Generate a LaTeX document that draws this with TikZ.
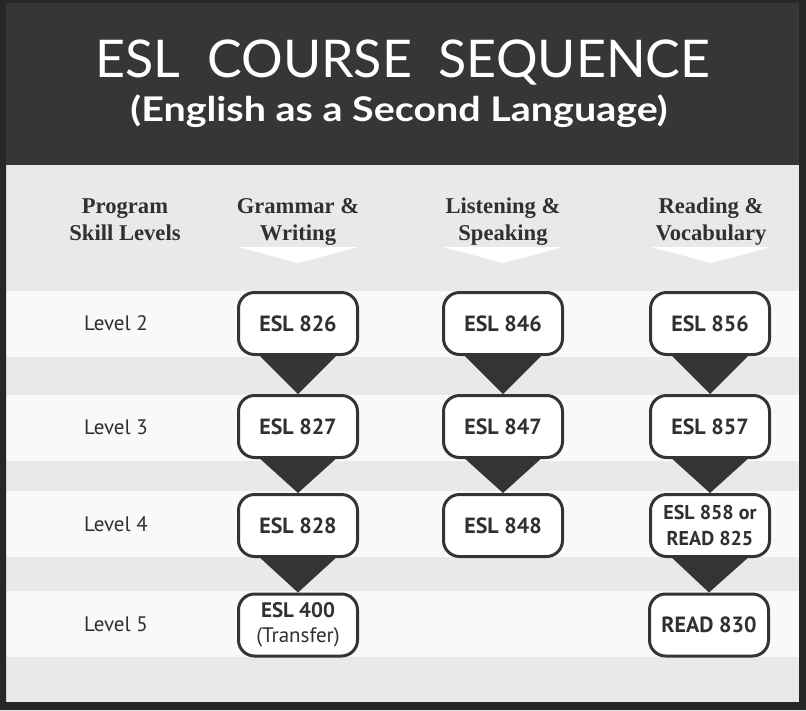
\documentclass[tikz,border=0pt]{standalone}
\usepackage{fontspec}
\setmainfont{PT Sans}
\newfontfamily\titlefont{Lato}
\newfontfamily\subtitlefont[FakeStretch=1.16]{Lato}
\newfontfamily\headfont{Liberation Serif}
\definecolor{darkbg}{RGB}{56,53,54}
\definecolor{framec}{RGB}{40,38,39}
\definecolor{greybg}{RGB}{233,233,233}
\definecolor{band}{RGB}{249,249,249}
\definecolor{ink}{RGB}{50,47,48}
\definecolor{boxline}{RGB}{54,51,52}
\pgfdeclarelayer{back}
\pgfdeclarelayer{drops}
\pgfsetlayers{back,drops,main}
\tikzset{
    course/.style={draw=boxline,line width=3pt,fill=white,rounded corners=16pt,
        minimum width=119pt,minimum height=62pt,inner sep=2pt,align=center,
        text=ink,font=\fontsize{22}{26}\selectfont\bfseries},
    level/.style={text=ink,font=\fontsize{21}{24}\selectfont},
    colhead/.style={text=ink,align=center,font=\fontsize{22.6}{27}\headfont\bfseries},
    drop/.style={fill=boxline}
}
\begin{document}
\begin{tikzpicture}[x=1pt,y=-1pt]
    \useasboundingbox (0,0) rectangle (806,710);
    % background, header and level bands
    \begin{pgfonlayer}{back}
        \fill[greybg] (0,0) rectangle (806,710);
        \fill[darkbg] (0,0) rectangle (806,165);
        \foreach \y in {291,395,491,591} {
            \fill[band] (6,\y) rectangle (799,\y+66);
        }
        \fill[framec,even odd rule] (0,0) rectangle (806,710) (6,3) rectangle (799,702);
    \end{pgfonlayer}
    % title
    \node[text=white,anchor=base,font=\fontsize{52}{56}\titlefont] (title) at (403,77)
        {ESL\ \ COURSE\ \ SEQUENCE};
    \node[text=white,anchor=base,font=\fontsize{34}{38}\subtitlefont\bfseries] (subtitle) at (399,121)
        {(English as a Second Language)};
    % column heads
    \node[colhead] (hskill) at (125,220) {Program\\Skill Levels};
    \node[colhead] (hgram) at (298,222) {Grammar \&\\Writing};
    \node[colhead] (hlist) at (503,222) {Listening \&\\Speaking};
    \node[colhead] (hread) at (711,222) {Reading \&\\Vocabulary};
    \foreach \x in {298,503,711} {
        \fill[white] (\x-60,247) -- (\x+60,247) -- (\x,263) -- cycle;
    }
    % levels
    \foreach \n/\y in {2/323.5,3/427,4/524,5/624} {
        \node[level] (lv\n) at (116,\y) {Level \n};
    }
    % courses
    \node[course] (g2) at (298,323.5) {ESL 826};
    \node[course] (g3) at (298,426.5) {ESL 827};
    \node[course] (g4) at (298,525.5) {ESL 828};
    \node[course,font=\fontsize{21}{25}\selectfont\bfseries] (g5) at (298,625)
        {ESL 400\\{\mdseries (Transfer)}};
    \node[course] (l2) at (503,323.5) {ESL 846};
    \node[course] (l3) at (503,426.5) {ESL 847};
    \node[course] (l4) at (503,525.5) {ESL 848};
    \node[course] (r2) at (710,323.5) {ESL 856};
    \node[course] (r3) at (710,426.5) {ESL 857};
    \node[course,font=\fontsize{20}{26}\selectfont\bfseries] (r4) at (710,525.5)
        {ESL 858 or\\READ 825};
    \node[course] (r5) at (709,625) {READ 830};
    % arrows between courses
    \begin{pgfonlayer}{drops}
        \foreach \a/\b in {g2/g3,g3/g4,g4/g5,l2/l3,l3/l4,r2/r3,r3/r4,r4/r5} {
            \fill[drop] ([xshift=-41pt,yshift=3pt]\a.south) -- ([xshift=41pt,yshift=3pt]\a.south)
                -- (\b.north) -- cycle;
        }
    \end{pgfonlayer}
\end{tikzpicture}
\end{document}
